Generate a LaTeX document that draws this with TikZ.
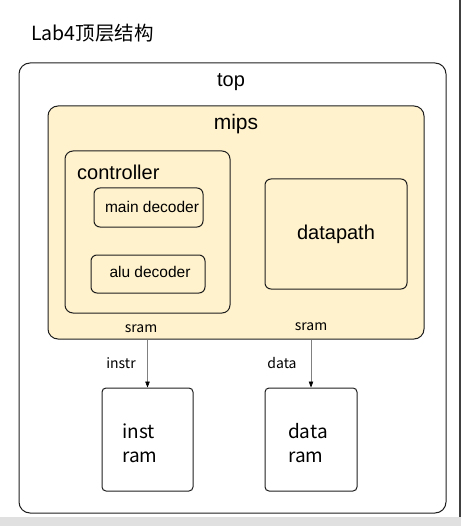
\documentclass[tikz,border=0pt]{standalone}
\usepackage{fontspec}
\setmainfont{Liberation Sans}
\newfontfamily\cjk{Noto Sans CJK SC}
\usetikzlibrary{arrows.meta}
\definecolor{mipsfill}{RGB}{255,242,204}
\definecolor{boxline}{RGB}{30,30,30}
\begin{document}
\begin{tikzpicture}[x=1pt, y=-1pt,
		box/.style={draw=boxline, line width=1pt, rounded corners=6pt, inner sep=0pt},
		lbl/.style={font=\cjk\fontsize{14}{14}\selectfont, inner sep=0pt},
		big/.style={font=\fontsize{20}{20}\selectfont, inner sep=0pt},
		small/.style={font=\fontsize{15.5}{15.5}\selectfont, inner sep=0pt},
		wire/.style={draw=gray, line width=0.6pt, -{Triangle[length=6pt, width=4.5pt, black]}}]
		\useasboundingbox (0,0) rectangle (461,526);
		% screenshot edges
		\fill[black!12] (0,517) rectangle (461,526);
		\fill[black!75] (458.5,0) rectangle (461,517);
		
		\node[lbl, anchor=west, font=\cjk\fontsize{19.5}{19.5}\selectfont] (title) at (31,33) {Lab4顶层结构};
		
		\node[box, rounded corners=11pt, minimum width=427pt, minimum height=450pt] (top) at (232.5,288) {};
		\node[big] (toplbl) at (231,82) {top};
		
		\node[box, rounded corners=10pt, fill=mipsfill, minimum width=376pt, minimum height=233pt] (mips) at (236,222.5) {};
		\node[big, font=\fontsize{21}{21}\selectfont] (mipslbl) at (236,124) {mips};
		
		\node[box, rounded corners=8pt, minimum width=165pt, minimum height=162pt] (ctrl) at (147.5,232) {};
		\node[big, anchor=west] (ctrllbl) at (77,172) {controller};
		\node[box, small, minimum width=109pt, minimum height=39pt] (maindec) at (148.5,207.5) {};
		\node[small] (maindeclbl) at (152,207) {main decoder};
		\node[box, small, minimum width=114pt, minimum height=38pt] (aludec) at (148,274) {};
		\node[small] (aludeclbl) at (150,272) {alu decoder};
		
		\node[box, big, minimum width=142pt, minimum height=110pt] (dp) at (336,234) {datapath};
		
		\node[lbl] (sram1) at (141,329) {sram};
		\node[lbl] (sram2) at (311,327) {sram};
		
		\node[box, rounded corners=4pt, minimum width=91pt, minimum height=103pt] (iram) at (147.5,439.5) {};
		\node[box, rounded corners=4pt, minimum width=92pt, minimum height=103pt] (dram) at (311,439.5) {};
		\node[lbl, align=left, font=\cjk\fontsize{19}{24}\selectfont] (iramlbl) at (140,443) {inst\\ram};
		\node[lbl, align=left, font=\cjk\fontsize{19}{24}\selectfont] (dramlbl) at (308,443) {data\\ram};
		
		\draw[wire] (mips.south -| iram.north) -- (iram.north);
		\draw[wire] (mips.south -| dram.north) -- (dram.north);
		\node[lbl] (instr) at (121,363) {instr};
		\node[lbl] (data) at (282,363) {data};
	\end{tikzpicture}
\end{document}
